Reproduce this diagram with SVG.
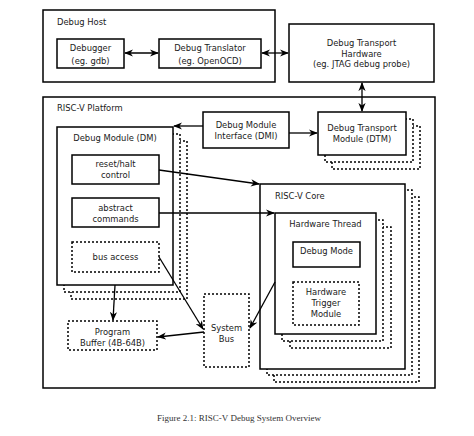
<svg xmlns="http://www.w3.org/2000/svg" width="474" height="436" viewBox="0 0 474 436">
<style>
.box{fill:#fff;stroke:#000;stroke-width:1.5}
.dot{fill:#fff;stroke:#000;stroke-width:1.5;stroke-dasharray:2 2}
.ln{fill:none;stroke:#000;stroke-width:1.3}
.t{font-family:"DejaVu Sans",sans-serif;font-size:8.4px;fill:#1a1a1a;text-anchor:middle}
.l{text-anchor:start}
.cap{font-family:"Liberation Serif",serif;font-size:9px;fill:#333;text-anchor:middle}
</style>
<defs>
<marker id="ah" viewBox="0 0 10 8" refX="9" refY="4" markerWidth="9" markerHeight="8" markerUnits="userSpaceOnUse" orient="auto-start-reverse">
<path d="M0,0 L10,4 L0,8 L3,4 z" fill="#000"/>
</marker>
</defs>
<rect width="474" height="436" fill="#fff"/>

<g id="debug-host">
<rect class="box" x="43" y="10" width="232" height="72"/>
<text class="t l" x="57" y="25">Debug Host</text>
</g>
<g id="debugger">
<rect class="box" x="57" y="39" width="67" height="29"/>
<text class="t" x="90.5" y="51.3">Debugger</text>
<text class="t" x="90.5" y="63.8">(eg. gdb)</text>
</g>
<g id="debug-translator">
<rect class="box" x="159" y="39" width="102" height="29"/>
<text class="t" x="210" y="51.3">Debug Translator</text>
<text class="t" x="210" y="63.8">(eg. OpenOCD)</text>
</g>
<g id="debug-transport-hardware">
<rect class="box" x="289" y="24" width="145" height="58"/>
<text class="t" x="361.5" y="46">Debug Transport</text>
<text class="t" x="361.5" y="56.5">Hardware</text>
<text class="t" x="361.5" y="67">(eg. JTAG debug probe)</text>
</g>

<g id="riscv-platform">
<rect class="box" x="43" y="97" width="392" height="291"/>
<text class="t l" x="57" y="111">RISC-V Platform</text>
</g>

<g id="debug-module">
<rect class="dot" x="71" y="141" width="116" height="158"/>
<rect class="dot" x="64" y="134" width="116" height="158"/>
<rect class="box" x="57" y="127" width="116" height="158"/>
<text class="t" x="115" y="141">Debug Module (DM)</text>
</g>
<g id="reset-halt">
<rect class="box" x="72" y="155" width="87" height="29"/>
<text class="t" x="115.5" y="167">reset/halt</text>
<text class="t" x="115.5" y="178">control</text>
</g>
<g id="abstract-commands">
<rect class="box" x="72" y="198" width="87" height="29"/>
<text class="t" x="115.5" y="211">abstract</text>
<text class="t" x="115.5" y="222">commands</text>
</g>
<g id="bus-access">
<rect class="dot" x="72" y="242" width="87" height="30"/>
<text class="t" x="115.5" y="260">bus access</text>
</g>

<g id="dmi">
<rect class="box" x="203" y="112" width="86" height="36"/>
<text class="t" x="246" y="128">Debug Module</text>
<text class="t" x="246" y="138.5">Interface (DMI)</text>
</g>
<g id="dtm">
<rect class="dot" x="332" y="126" width="88" height="43"/>
<rect class="dot" x="325" y="119" width="88" height="43"/>
<rect class="box" x="318" y="112" width="88" height="43"/>
<text class="t" x="362" y="131">Debug Transport</text>
<text class="t" x="362" y="142">Module (DTM)</text>
</g>

<g id="riscv-core">
<rect class="dot" x="274" y="197" width="145" height="185"/>
<rect class="dot" x="267" y="190" width="145" height="185"/>
<rect class="box" x="260" y="184" width="145" height="185"/>
<text class="t l" x="275" y="199">RISC-V Core</text>
</g>
<g id="hardware-thread">
<rect class="dot" x="290" y="227" width="101" height="121"/>
<rect class="dot" x="282" y="220" width="101" height="121"/>
<rect class="box" x="275" y="213" width="101" height="121"/>
<text class="t" x="325.5" y="227">Hardware Thread</text>
</g>
<g id="debug-mode">
<rect class="box" x="293" y="242" width="67" height="25"/>
<text class="t" x="326.5" y="254">Debug Mode</text>
</g>
<g id="trigger-module">
<rect class="dot" x="293" y="282" width="66" height="43"/>
<text class="t" x="326" y="295">Hardware</text>
<text class="t" x="326" y="305.5">Trigger</text>
<text class="t" x="326" y="316.5">Module</text>
</g>
<g id="system-bus">
<rect class="dot" x="204" y="294" width="45" height="73"/>
<text class="t" x="226.5" y="331">System</text>
<text class="t" x="226.5" y="341.5">Bus</text>
</g>
<g id="program-buffer">
<rect class="dot" x="68" y="321" width="89" height="29"/>
<text class="t" x="112.5" y="335">Program</text>
<text class="t" x="112.5" y="346">Buffer (4B-64B)</text>
</g>

<g id="connectors">
<line class="ln" x1="125" y1="53" x2="158" y2="53" marker-start="url(#ah)" marker-end="url(#ah)"/>
<line class="ln" x1="262" y1="53" x2="288" y2="53" marker-start="url(#ah)" marker-end="url(#ah)"/>
<line class="ln" x1="362" y1="83" x2="362" y2="111" marker-start="url(#ah)" marker-end="url(#ah)"/>
<line class="ln" x1="203" y1="126" x2="174" y2="126" marker-end="url(#ah)"/>
<line class="ln" x1="289" y1="133" x2="317" y2="133" marker-end="url(#ah)"/>
<line class="ln" x1="159" y1="170" x2="259" y2="184" marker-end="url(#ah)"/>
<line class="ln" x1="159" y1="213" x2="274" y2="213" marker-end="url(#ah)"/>
<line class="ln" x1="115" y1="285" x2="113" y2="320" marker-end="url(#ah)"/>
<line class="ln" x1="159" y1="257" x2="203" y2="329" marker-end="url(#ah)"/>
<line class="ln" x1="204" y1="332" x2="158" y2="337" marker-end="url(#ah)"/>
<line class="ln" x1="275" y1="282" x2="250" y2="328" marker-end="url(#ah)"/>
</g>

<text class="cap" x="239" y="421">Figure 2.1: RISC-V Debug System Overview</text>
</svg>
